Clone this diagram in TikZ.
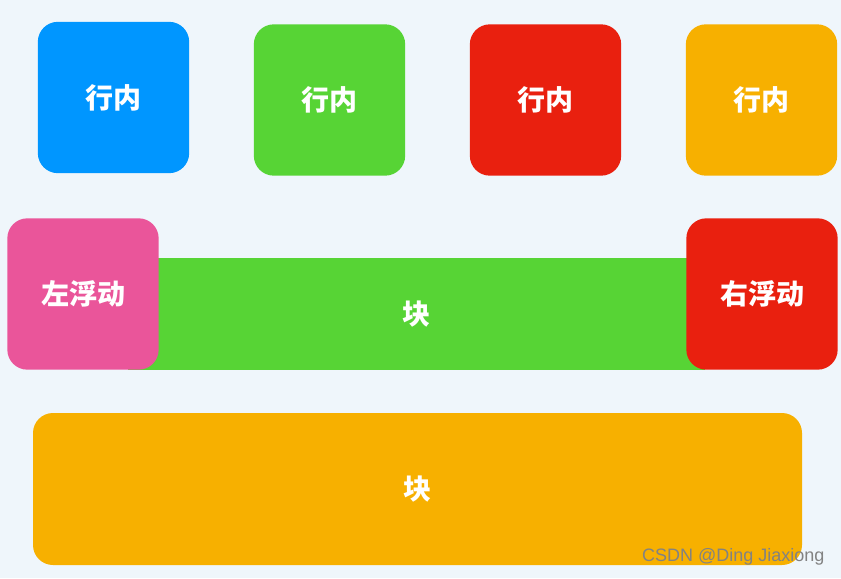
\documentclass[tikz,border=0pt]{standalone}
\usepackage{fontspec}
\newfontfamily\cjk{Noto Sans CJK SC}
\setmainfont{Liberation Sans}

\definecolor{bgpale}{RGB}{239,246,251}
\definecolor{boxblue}{RGB}{0,150,255}
\definecolor{boxgreen}{RGB}{87,212,53}
\definecolor{boxred}{RGB}{233,32,15}
\definecolor{boxorange}{RGB}{247,176,0}
\definecolor{boxpink}{RGB}{234,85,154}
\definecolor{marktext}{RGB}{130,130,130}

\tikzset{every picture/.style={line width=0.75pt}}
\tikzset{
  tile/.style={rounded corners=15pt, minimum width=113.5pt, minimum height=113.5pt, inner sep=0pt, text=white, font=\cjk\bfseries\fontsize{21}{25}\selectfont},
  bar/.style={inner sep=0pt, text=white, font=\cjk\bfseries\fontsize{21}{25}\selectfont}
}

\begin{document}
\begin{tikzpicture}[x=0.75pt,y=0.75pt,yscale=-1,xscale=1]
%background, set diagram size 841 x 578
\fill [bgpale] (0,0) rectangle (841,578);
\useasboundingbox (0,0) rectangle (841,578);

%Rounded Rect row 1
\node [tile, fill=boxblue] (inlineA) at (113.5,97.5) {行内};
\node [tile, fill=boxgreen] (inlineB) at (329.5,100) {行内};
\node [tile, fill=boxred] (inlineC) at (545.5,100) {行内};
\node [tile, fill=boxorange] (inlineD) at (761.5,100) {行内};

%Rect row 2 (block under the floats)
\node [bar, fill=boxgreen, minimum width=432.75pt, minimum height=84pt] (blockA) at (416.5,314) {块};
\node [tile, fill=boxpink] (floatL) at (83,294) {左浮动};
\node [tile, fill=boxred] (floatR) at (762,294) {右浮动};

%Rounded Rect row 3
\node [bar, fill=boxorange, rounded corners=15pt, minimum width=576.75pt, minimum height=114pt] (blockB) at (417.5,489) {块};

% Text Node
\node [text=marktext, font=\fontsize{13.5}{16}\selectfont, anchor=east, inner sep=0pt] (mark) at (825,557) {CSDN @Ding Jiaxiong};

\end{tikzpicture}
\end{document}
